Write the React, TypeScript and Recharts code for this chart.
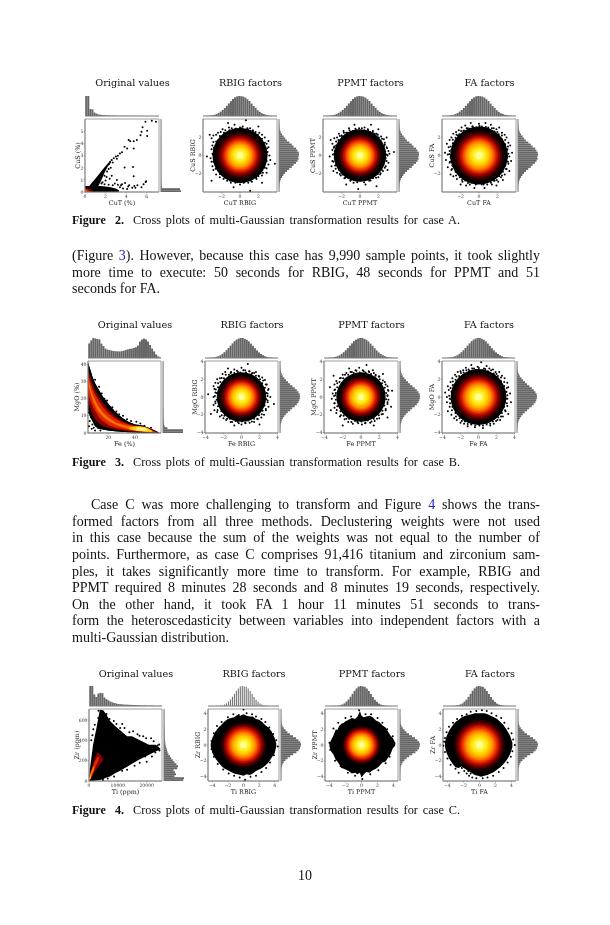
import React from 'react';
import { Area, Bar, BarChart, ComposedChart, ReferenceArea, Scatter, XAxis, YAxis } from 'recharts';

/* ---- colour ramps ---- */
const HEAT = ['#000000', '#200000', '#500000', '#8a0000', '#b81000', '#e02800', '#f54800', '#fc7000', '#fe9400', '#ffb000', '#ffcc00', '#ffe400', '#fff040', '#ffff90'];
const BAND_COLORS = ['#000000', '#000000', '#8a0000', '#e02800', '#fc7000', '#ffd000', '#fff080'];

/* ---- density contours, radius in factor units, outermost first ---- */
const RINGS_A_RBIG = [3.0, 2.6, 2.35, 2.15, 1.95, 1.78, 1.62, 1.48, 1.32, 1.18, 1.02, 0.85, 0.65, 0.38];
const RINGS_A_PPMT = [2.85, 2.42, 2.2, 2.02, 1.85, 1.68, 1.54, 1.4, 1.26, 1.12, 0.97, 0.8, 0.6, 0.35];
const RINGS_A_FA = [3.15, 2.75, 2.5, 2.3, 2.1, 1.92, 1.76, 1.6, 1.44, 1.28, 1.1, 0.92, 0.7, 0.4];
const RINGS_B_RBIG = [2.75, 2.38, 2.18, 2, 1.83, 1.67, 1.53, 1.39, 1.25, 1.11, 0.96, 0.8, 0.6, 0.35];
const RINGS_B_PPMT = [2.7, 2.3, 2.12, 1.95, 1.78, 1.62, 1.48, 1.35, 1.22, 1.08, 0.93, 0.78, 0.58, 0.34];
const RINGS_B_FA = [3.1, 2.72, 2.48, 2.28, 2.08, 1.9, 1.74, 1.58, 1.42, 1.26, 1.08, 0.9, 0.68, 0.4];
const RINGS_C_RBIG = [3.2, 2.95, 2.7, 2.5, 2.3, 2.1, 1.9, 1.72, 1.55, 1.38, 1.18, 0.98, 0.75, 0.42];
const RINGS_C_PPMT = [2.6, 2.4, 2.22, 2.05, 1.9, 1.75, 1.6, 1.46, 1.32, 1.18, 1.02, 0.85, 0.65, 0.36];
const RINGS_C_FA = [3.5, 3.2, 2.95, 2.72, 2.5, 2.3, 2.1, 1.9, 1.72, 1.52, 1.3, 1.08, 0.82, 0.46];

/* ---- samples crowding the edge of the dense disc ---- */
const RIM_FACTORS = [[2.9,0.1],[2.75,0.45],[2.95,0.8],[2.6,1.05],[2.7,1.4],[2.3,1.55],[2.4,1.85],[2.05,2.0],[1.95,2.3],[1.6,2.4],[1.4,2.7],[1.1,2.6],[0.85,2.9],[0.5,2.75],[0.2,3.0],[-0.15,2.75],[-0.5,2.95],[-0.8,2.7],[-1.15,2.8],[-1.4,2.5],[-1.75,2.5],[-1.95,2.1],[-2.2,2.15],[-2.35,1.7],[-2.6,1.55],[-2.6,1.1],[-2.85,0.85],[-2.75,0.45],[-2.95,0.1],[-2.75,-0.3],[-2.9,-0.7],[-2.6,-1.05],[-2.65,-1.45],[-2.25,-1.6],[-2.2,-2.05],[-1.9,-2.1],[-1.6,-2.45],[-1.3,-2.45],[-1.05,-2.8],[-0.65,-2.7],[-0.3,-2.95],[0.05,-2.75],[0.45,-2.95],[0.75,-2.65],[1.15,-2.75],[1.4,-2.45],[1.75,-2.45],[1.95,-2.05],[2.25,-1.95],[2.35,-1.55],[2.7,-1.35],[2.55,-0.95],[2.9,-0.6],[2.75,-0.25]];
const RIM_FA = [[3.2,0.2],[3.05,0.6],[3.15,1.0],[2.85,1.25],[2.85,1.7],[2.5,1.8],[2.5,2.2],[2.15,2.35],[2.0,2.6],[1.7,2.65],[1.4,3.0],[1.05,2.9],[0.75,3.15],[0.4,3.0],[0.05,3.25],[-0.3,3.05],[-0.7,3.2],[-1.0,2.95],[-1.35,3.0],[-1.65,2.75],[-1.95,2.7],[-2.15,2.35],[-2.45,2.3],[-2.55,1.95],[-2.85,1.75],[-2.85,1.35],[-3.1,1.0],[-3.0,0.6],[-3.25,0.15],[-3.05,-0.25],[-3.15,-0.7],[-2.9,-1.1],[-2.95,-1.5],[-2.55,-1.8],[-2.5,-2.2],[-2.1,-2.4],[-1.85,-2.7],[-1.5,-2.75],[-1.2,-3.05],[-0.8,-3.0],[-0.35,-3.2],[0.05,-3.05],[0.5,-3.2],[0.9,-2.95],[1.3,-3],[1.6,-2.75],[1.95,-2.7],[2.2,-2.3],[2.5,-2.2],[2.6,-1.8],[2.95,-1.5],[2.85,-1.1],[3.15,-0.7],[3.05,-0.2]];

/* ---- outlying samples ---- */
const DOTS_A_RBIG = [[-3.3,2.3],[-3.1,1.9],[-2.9,2.2],[-2.6,2.3],[-2.4,2.5],[-2.1,2.6],[-1.9,2.9],[-1.6,2.8],[-1.3,3.6],[-1.2,3.1],[-0.9,3.0],[-0.6,3.4],[-0.4,2.95],[0,3.1],[0.3,3.2],[0.65,3.9],[0.8,3],[1.1,3.0],[1.4,2.8],[1.7,2.6],[2,3.2],[2.1,2.5],[2.4,2.3],[2.7,2],[3.1,1.6],[2.9,1.3],[3.1,0.9],[3,0.4],[3.2,0],[3.3,-0.5],[3.8,-0.9],[3.1,-1],[2.9,-1.4],[2.9,-1.9],[2.5,-1.9],[2.4,-2.2],[2.4,-3],[2,-2.3],[1.8,-2.6],[1.1,-3.9],[1.3,-2.9],[0.9,-3],[0.4,-3],[0,-3.2],[-0.7,-3.5],[-0.5,-3],[-1,-3],[-1.4,-2.8],[-1.8,-2.6],[-2.2,-2.4],[-3.1,-2.8],[-2.6,-2.1],[-2.9,-1.6],[-3,-1.2],[-3.1,-0.7],[-3.6,-0.1],[-3.2,-0.3],[-3,0.2],[-3.1,0.7],[-3,1.1],[-2.9,1.5]];
const DOTS_A_PPMT = [[-3.2,1.7],[-3,1.3],[-2.8,1.9],[-2.5,2.0],[-2.3,2.4],[-2,2.2],[-1.8,2.7],[-1.5,2.5],[-1.2,3.0],[-1,2.6],[-0.6,3.4],[-0.4,2.8],[-0.1,3.0],[0.2,2.7],[0.5,3.1],[0.9,2.8],[1.2,3.4],[1.4,2.6],[1.8,2.4],[2,2.9],[2.3,2.1],[2.6,1.8],[2.9,2],[2.7,1.2],[2.9,0.9],[3.1,0.5],[3.7,0.4],[3.0,0],[3.2,0.2],[2.8,-0.3],[3.1,-0.8],[2.8,-1.2],[3,-1.6],[2.5,-1.7],[2.2,-2.1],[2.0,-2.4],[1.8,-3.4],[1.4,-2.5],[1,-2.8],[0.6,-3.2],[0.2,-2.7],[-0.2,-3.7],[-0.3,-2.8],[-0.7,-3.0],[-1,-2.7],[-1.5,-3.2],[-1.7,-2.5],[-2.1,-2.2],[-2.5,-1.9],[-2.9,-1.7],[-3.1,-1.2],[-2.7,-1.1],[-3,-0.6],[-3.3,-0.1],[-2.8,0.2],[-3,0.6],[-2.8,1]];
const DOTS_A_FA = [[-3.5,1.3],[-3.3,0.9],[-3.2,1.7],[-3.0,2.0],[-2.8,2.4],[-2.5,2.6],[-2.2,2.8],[-2.3,2.2],[-1.9,3.1],[-1.7,2.7],[-1.5,3.3],[-1.2,3.0],[-0.9,3.6],[-0.7,3.2],[-0.3,3.1],[0,3.5],[0.3,3.2],[0.7,3.6],[1,3.1],[1.3,3.4],[1.6,3.0],[1.9,2.9],[2.2,3.1],[2.5,2.5],[2.8,2.3],[3,2.0],[3.2,1.4],[3.4,1.1],[3.1,0.7],[3.6,0.3],[3.3,-0.1],[3.5,-0.6],[3.2,-0.9],[3.0,-1.5],[3.3,-1.7],[2.8,-2.1],[2.4,-2.4],[2.6,-2.7],[2.1,-2.9],[1.7,-2.8],[1.9,-3.3],[1.4,-3.2],[0.9,-3.2],[0.6,-3.6],[0.3,-3.2],[-0.2,-3.1],[-0.5,-3.6],[-1,-3.2],[-1.4,-3.3],[-1.8,-2.9],[-2,-3.2],[-2.4,-2.6],[-2.8,-2.3],[-3.1,-2.1],[-3,-1.6],[-3.4,-1.3],[-3.2,-0.8],[-3.6,-0.5],[-3.1,-0.2],[-3.4,0.1],[-3.7,0.3],[-3.2,0.5]];
const DOTS_B_RBIG = [[-3.7,0.3],[-3.1,1.2],[-2.9,1.6],[-2.7,2],[-2.4,2.1],[-2.1,2.6],[-1.8,2.8],[-1.5,3.2],[-1.2,2.7],[-0.8,3.1],[-0.4,2.8],[0,3.3],[0.4,3.0],[0.7,3.7],[0.9,2.9],[1.2,2.7],[1.6,2.8],[1.9,2.4],[2.3,2.2],[2.6,1.9],[2.8,1.4],[3,0.9],[2.9,0.4],[3.2,0],[2.9,-0.4],[3.6,-0.8],[3,-1.1],[2.7,-1.5],[2.5,-2],[2.2,-2.3],[1.8,-2.5],[2,-3.1],[1.4,-2.8],[0.9,-2.9],[0.4,-2.9],[0,-3.1],[-0.4,-2.8],[-0.8,-3.2],[-1.2,-2.8],[-1.7,-2.6],[-2,-2.4],[-2.4,-2.2],[-2.7,-1.7],[-3,-1.5],[-3.4,-1.9],[-3.1,-0.9],[-2.9,-0.5],[-3.1,0],[-2.9,0.5],[-3,0.9]];
const DOTS_B_PPMT = [[-3.4,1.1],[-3.1,0.4],[-2.9,1.4],[-2.7,1.8],[-3,2.4],[-2.3,2.1],[-2,2.5],[-1.6,2.7],[-1.3,3.2],[-1,2.8],[-0.6,3.0],[-0.2,3.3],[0.3,2.9],[0.6,3.6],[0.9,2.8],[1.3,3.0],[1.6,2.5],[2,2.3],[2.4,2.6],[2.6,1.7],[2.9,1.2],[3.0,0.7],[3.4,0.7],[2.9,0.2],[3,-0.3],[2.9,-0.8],[3.3,-1.1],[2.7,-1.5],[2.4,-1.9],[2.9,-2.3],[2,-2.4],[1.5,-2.7],[1,-2.9],[1.4,-3.2],[0.5,-2.9],[0.1,-3.1],[-0.4,-2.8],[-0.9,-3],[-1.4,-2.8],[-1.8,-2.5],[-2,-3.2],[-2.3,-2.2],[-2.7,-1.8],[-2.9,-1.2],[-3.3,-1.5],[-2.9,-0.7],[-3.2,-0.2],[-2.8,0.2],[-2.9,0.8]];
const DOTS_B_FA = [[-3.7,0.5],[-3.4,1.2],[-3.1,1.7],[-3.3,0.8],[-2.9,2.1],[-2.6,2.5],[-2.3,2.8],[-2.0,2.9],[-1.7,3.0],[-1.4,3.3],[-1.1,3.1],[-0.8,3.6],[-0.5,3.2],[-0.1,3.4],[0.3,3.9],[0.6,3.2],[0.9,3.5],[1.2,3.2],[1.6,3.1],[1.9,2.8],[2.3,2.8],[2.6,2.4],[2.9,2.1],[3.2,1.6],[3.3,1.1],[3.1,0.6],[3.5,0.4],[3.2,-0.2],[3.6,-0.6],[3.2,-1],[3,-1.6],[3.3,-1.9],[2.7,-2.2],[2.4,-2.6],[2.1,-2.6],[1.7,-3],[1.3,-3.2],[0.9,-3.1],[0.5,-3.5],[0.1,-3.2],[-0.4,-3.4],[-0.8,-3.1],[-1.2,-3.3],[-1.6,-3],[-2,-2.9],[-2.4,-2.6],[-2.7,-2.4],[-3,-2.0],[-3.4,-1.6],[-3.2,-1.1],[-3.5,-0.6],[-3.2,-0.2],[-3.5,0]];
const DOTS_C_RBIG = [[-4.1,0.5],[-3.8,1.5],[-3.4,2.4],[-2.8,2.9],[-2,3.5],[-1.3,3.9],[-0.6,3.8],[0,4.5],[0.4,4.0],[1.1,3.9],[1.6,3.6],[2.3,3.3],[2.8,2.9],[3.3,2.2],[3.8,1.4],[4.2,0.6],[4.4,-0.2],[3.9,-1.3],[3.4,-2.2],[2.9,-2.9],[2.3,-3.4],[1.6,-3.9],[0.9,-4.0],[0.2,-4.4],[-0.5,-4.1],[-1.2,-3.9],[-1.9,-3.6],[-2.6,-3.1],[-3.3,-2.4],[-3.8,-1.5],[-4.1,-0.5]];
const DOTS_C_PPMT = [[-4,0.3],[-3.5,2.1],[-2.9,2.8],[-2,3.4],[-1.3,3.6],[-0.3,4.4],[0.5,3.9],[1.2,3.9],[2,3.4],[2.6,2.8],[3.2,2],[3.9,1.1],[4.1,0.2],[3.5,-1.5],[3,-2.3],[2.1,-3.2],[1.1,-3.7],[0.1,-4.3],[-0.8,-3.9],[-1.7,-3.5],[-2.6,-2.7],[-3.3,-2],[-3.9,-0.6]];
const DOTS_C_FA = [[-4.3,0.9],[-4.1,1.6],[-3.8,2.3],[-3.3,2.8],[-2.8,3.3],[-2.2,3.7],[-1.6,3.9],[-1.1,4.2],[-0.4,4.3],[0.3,4.4],[0.9,4.3],[1.5,4.0],[2.1,3.7],[2.7,3.4],[3.1,2.8],[3.6,2.1],[4,1.5],[4.2,0.7],[4.4,0],[4.1,-0.8],[3.9,-1.5],[3.5,-2.2],[3,-2.9],[2.4,-3.4],[1.7,-3.9],[1,-4.1],[0.4,-4.2],[-0.4,-4.2],[-0.9,-4.1],[-1.3,-3.9],[-1.6,-3.6],[-1.9,-3.3],[-2.2,-2.9],[-1.4,-3.3],[-1.1,-3.6],[-2.6,-3.5],[-3,-3],[-3.6,-2.5],[-4,-1.7],[-3.2,-1.6],[-3.6,-1.2],[-2.9,-1.3],[-4.3,-0.9],[-4.5,-0.1],[-4.4,0.4]];
const DOTS_A_ORIG = [[5.88,5.83],[6.5,5.9],[6.9,5.83],[6.05,5.08],[6.05,4.64],[5.6,5.36],[5.5,5],[5.4,4.7],[5.05,4.3],[4.74,4.2],[4.4,4.2],[4.25,4.3],[3.85,3.75],[4.1,3.6],[4.74,3.6],[3.6,3.3],[3.4,3.2],[3.2,3.0],[3.0,2.95],[2.8,2.8],[2.6,2.65],[2.45,2.5],[2.3,2.3],[3.1,2.75],[2.7,2.45],[2.3,1.9],[2.15,1.7],[2.5,2.0],[1.9,1.35],[2.1,1.25],[2.4,1.1],[2.0,0.95],[1.7,0.8],[2.6,1.35],[3.1,1.0],[3.85,2.03],[4.67,2.08],[4.74,1.3],[3.6,0.65],[3.9,0.75],[4.2,0.45],[4.6,0.35],[4.9,0.35],[3.4,0.4],[3.7,0.3],[4.1,0.25],[4.3,0.55],[3.2,0.6],[2.9,0.7],[5.9,0.83],[5.7,0.65],[5.5,0.4],[5.95,0.9],[5.1,0.55],[4.8,0.5],[3.5,0.55],[2.7,0.55],[2.3,0.6],[1.9,0.65],[1.6,0.7]];
const DOTS_B_ORIG = [[5.5,12],[7,9],[6,7],[8,5],[9,3],[7.5,2.5],[10,1.5],[12,3],[14,1.5],[5.5,4],[9,7],[6.5,11],[11,5],[15,23],[19,19],[23,15],[26,12.5],[28,11],[31,10],[34,8],[37,7],[41,6.5],[44,5.5],[47,4.2],[52,3],[13,27],[10,31],[17,20]];
const DOTS_C_ORIG = [[6050,660],[3300,690],[2000,554],[3200,620],[7100,610],[8600,590],[10800,520],[12300,520],[14000,480],[15300,490],[16800,460],[18800,440],[19800,420],[22400,390],[23800,350],[24300,360],[21500,420],[17500,445],[11500,560],[9500,560],[800,400],[1500,510],[1200,450],[19500,240],[17600,180],[15800,150],[13200,110],[11500,100],[21800,240],[20000,190],[23000,280],[8700,45],[6500,25],[4800,12],[24400,300]];

/* ---- black and heat regions (x, lower edge, upper edge), outermost first ---- */
const BANDS_A_ORIG = [
  { x: [0, 0.5, 1, 1.5, 2, 2.5, 3, 3.3], lo: [0, 0, 0, 0, 0, 0, 0, 0], hi: [0.5, 0.5, 0.5, 0.5, 0.45, 0.4, 0.3, 0.15] },
  { x: [0, 0.3, 0.6, 1, 1.3, 1.6, 1.9, 2.2, 2.5], lo: [0, 0, 0, 0.2, 0.5, 1.0, 1.6, 2.1, 2.4], hi: [0.05, 0.35, 0.7, 1.1, 1.4, 1.75, 2.05, 2.35, 2.6] },
  { x: [0, 0.3, 0.5, 0.7], lo: [0, 0, 0, 0], hi: [0.3, 0.32, 0.25, 0.1] },
  { x: [0, 0.15, 0.3, 0.42], lo: [0, 0, 0, 0], hi: [0.22, 0.25, 0.18, 0.05] },
  { x: [0, 0.1, 0.2], lo: [0, 0, 0], hi: [0.12, 0.14, 0.04] },
];
const BANDS_B_ORIG = [
  { x: [4.7, 6, 8, 10, 13, 16, 20, 25, 30, 35, 40, 45, 50, 55, 58], lo: [14, 10, 7, 4, 2.5, 2, 1.5, 1, 0.8, 0.5, 0.3, 0.2, 0.1, 0, 0], hi: [41, 38, 33, 29, 25, 21, 17, 12.5, 9, 6.5, 5, 4.5, 3, 1.5, 0.3] },
  { x: [4.7, 6, 8, 10, 13, 16, 20, 25, 30, 35, 40, 45, 50, 55, 57], lo: [14, 10, 7, 4, 2.5, 2, 1.5, 1, 0.8, 0.5, 0.3, 0.2, 0.1, 0, 0], hi: [41, 38, 33, 29, 25, 21, 17, 12.5, 9, 6.5, 5, 4.5, 3, 1.5, 0.3] },
  { x: [4.7, 6, 8, 10, 13, 16, 20, 25, 30, 35, 40, 45, 50, 55, 57], lo: [19, 15, 11, 8, 5.5, 4, 3, 2, 1.5, 1, 0.8, 0.5, 0.3, 0.2, 0.1], hi: [38, 34, 29, 25, 21, 17.5, 13.5, 10, 7.3, 5.4, 4.4, 3.9, 2.6, 1.2, 0.4] },
  { x: [4.7, 6, 8, 10, 13, 16, 20, 25, 30, 35, 40, 45, 50, 55], lo: [24, 20, 16, 13, 9, 7, 4.7, 3.2, 2.4, 1.6, 1.2, 0.9, 0.5, 0.3], hi: [35, 31, 26, 22.5, 18.5, 15, 11.5, 8.5, 6.2, 4.9, 4, 3.5, 2.3, 0.9] },
  { x: [5, 7, 9, 12, 16, 20, 26, 32, 38, 42, 46, 50, 53], lo: [28, 22, 17.5, 13, 9.5, 7, 4.6, 3, 1.8, 1.2, 0.9, 0.7, 0.4], hi: [32, 25, 21, 16, 12, 9, 6, 4.5, 3.9, 3.9, 3.5, 2.5, 1.2] },
  { x: [36, 39, 42, 45, 48, 51, 53], lo: [2.3, 1.6, 1.2, 1, 0.8, 0.7, 0.7], hi: [3, 3.6, 3.9, 3.8, 3.3, 2.2, 1.1] },
  { x: [41, 44, 47, 49], lo: [1.6, 1.4, 1.2, 1.3], hi: [3.2, 3.4, 3, 2.3] },
];
const BANDS_C_ORIG = [
  { x: [0, 235, 1410, 2590, 3760, 4940, 6100, 7300, 9050, 10800, 13200, 14900, 17300, 20800, 23100, 24700], lo: [0, 0, 0, 5, 10, 20, 35, 45, 76, 100, 140, 170, 208, 257, 290, 310], hi: [0, 100, 356, 520, 700, 695, 650, 590, 540, 500, 440, 440, 405, 356, 356, 320] },
  { x: [0, 300], lo: [0, 0], hi: [30, 60] },
  { x: [300, 1000, 2000, 3000, 4000, 5000], lo: [10, 40, 90, 130, 170, 210], hi: [60, 120, 230, 280, 260, 210] },
  { x: [300, 1000, 2000, 3000, 3500], lo: [20, 70, 130, 180, 230], hi: [60, 120, 190, 240, 230] },
  { x: [100, 500, 1000, 1500, 2000], lo: [0, 20, 60, 90, 140], hi: [30, 70, 110, 140, 140] },
  { x: [0, 300, 600], lo: [0, 10, 30], hi: [30, 50, 70] },
];
const EDGE_C_RBIG = { x: [-4.2, -4, -3.6, -3.2, -2.8, -2.4, -2, -1.6, -1.2, -0.8, -0.4, 0, 0.4, 0.8, 1.2, 1.6, 2, 2.4, 2.8, 3.2, 3.6, 4, 4.2], lo: [-0.2, -1, -1.7, -2.2, -2.7, -3, -3.2, -3.4, -3.6, -3.7, -3.8, -3.9, -3.7, -3.8, -3.6, -3.3, -3.1, -2.9, -2.6, -2.2, -1.6, -1, -0.2], hi: [0.2, 0.9, 1.7, 2.2, 2.6, 3, 3.3, 3.4, 3.5, 3.8, 3.7, 3.9, 3.7, 3.6, 3.6, 3.3, 3.2, 2.9, 2.5, 2.2, 1.7, 0.9, 0.2] };
const EDGE_C_PPMT = { x: [-4, -3.8, -3.5, -3.2, -3, -2.8, -2.5, -2.2, -2, -1.6, -1.2, -0.8, -0.5, -0.2, 0, 0.3, 0.6, 1, 1.4, 1.8, 2.2, 2.6, 3, 3.3, 3.6, 3.9, 4.2], lo: [-0.2, -0.8, -1.2, -1.9, -2.1, -2.4, -2.9, -3, -3.1, -3.3, -3.6, -3.5, -3.7, -3.5, -4.1, -3.7, -3.4, -3.5, -3.2, -3, -2.7, -2.2, -2.1, -1.6, -1.2, -0.4, -0.1], hi: [0.2, 0.6, 1.2, 2.0, 1.9, 2.4, 2.7, 2.8, 3.0, 3.2, 3.4, 3.3, 3.6, 4.3, 3.7, 3.5, 3.6, 3.7, 3.5, 3.1, 2.9, 2.5, 2.2, 1.7, 1.2, 0.9, 0.3] };
const EDGE_C_FA = { x: [-4.3, -4.1, -3.8, -3.4, -3, -2.6, -2.2, -1.8, -1.4, -1, -0.6, -0.2, 0.2, 0.6, 1, 1.4, 1.8, 2.2, 2.6, 3, 3.4, 3.8, 4.1], lo: [-0.3, -1, -1.7, -2.3, -2.8, -2.9, -2.7, -2.9, -3.3, -3.5, -3.8, -3.9, -4, -3.9, -3.8, -3.6, -3.4, -3.1, -2.8, -2.4, -1.9, -1.2, -0.3], hi: [0.4, 1.1, 1.8, 2.4, 2.9, 3.2, 3.5, 3.7, 3.8, 3.9, 4, 4, 4, 4, 3.9, 3.7, 3.5, 3.3, 2.9, 2.5, 1.9, 1.2, 0.3] };

/* ---- histogram bars, share of the tallest bin ---- */
const TOP_A = [0, 0.5, 1, 2, 4, 6, 10, 15, 22, 30, 40, 51, 63, 74, 85, 93, 98, 100, 99, 97, 92, 84, 75, 62, 50, 41, 29, 21, 14, 10, 6, 4, 2, 1, 0.5, 0];
const RIGHT_A = [0, 0.5, 1, 2, 3, 6, 9, 15, 23, 31, 39, 52, 64, 73, 86, 92, 99, 100, 97, 98, 93, 85, 73, 64, 51, 40, 30, 22, 15, 9, 6, 3, 2, 1, 0.5, 0];
const TOP_B = [0, 0.5, 1, 2, 3, 6, 9, 14, 21, 29, 39, 50, 62, 73, 84, 92, 97, 100, 100, 96, 91, 83, 72, 61, 49, 38, 28, 20, 14, 9, 5, 3, 2, 1, 0.5, 0];
const RIGHT_B = [0.5, 0.5, 1, 2, 3, 5, 9, 14, 22, 30, 40, 50, 62, 74, 84, 92, 98, 100, 99, 96, 92, 84, 74, 61, 51, 39, 29, 21, 14, 9, 6, 3, 2, 1, 0.5, 0.5];
const TOP_C = [0, 0, 0, 0.5, 1, 1, 2, 4, 8, 13, 22, 32, 46, 61, 76, 88, 97, 100, 98, 96, 87, 75, 60, 45, 31, 21, 12, 7, 4, 2, 1, 0.5, 0.5, 0, 0, 0];
const RIGHT_C = [0, 0, 0, 0.5, 1, 1, 2, 4, 8, 14, 23, 32, 45, 60, 75, 87, 96, 100, 98, 95, 88, 77, 61, 46, 33, 22, 13, 8, 4, 2, 1, 1, 0.5, 0, 0, 0];
const TOP_A_ORIG = [100, 100, 35, 33, 17, 12, 8, 6, 5, 4, 3, 3, 2, 2, 2, 1, 1, 1, 1, 1, 1, 1, 0.5, 0.5, 0.5, 0.5, 0.5, 0.5, 0, 0, 0, 0, 0, 0, 0, 0];
const RIGHT_A_ORIG = [0.5, 0.5, 0.5, 0.5, 0.5, 0.5, 0.5, 0.5, 0.5, 1, 1, 1, 1, 1, 1, 1, 1, 1, 1, 1, 1, 1, 1, 1, 1, 1, 1, 1, 1, 1, 2, 2, 3, 5, 95, 100];
const TOP_B_ORIG = [73, 88, 100, 98, 95, 93, 72, 60, 47, 42, 40, 37, 35, 34, 33, 33, 34, 36, 40, 43, 46, 47, 50, 54, 62, 82, 92, 97, 93, 82, 65, 47, 33, 18, 8, 2];
const RIGHT_B_ORIG = [1, 1, 1, 1, 1, 1, 1, 1, 1, 1, 1, 1, 1, 1, 1, 1, 1, 1, 1, 1, 1, 1, 1, 1, 2, 2, 2, 2, 3, 3, 4, 5, 8, 22, 100, 100];
const TOP_C_ORIG = [100, 100, 58, 45, 62, 66, 64, 42, 34, 28, 22, 18, 15, 12, 10, 9, 8, 7, 7, 6, 6, 5, 5, 4, 4, 3, 3, 3, 2, 2, 2, 2, 1, 1, 1, 1];
const RIGHT_C_ORIG = [1, 1, 1, 1, 1, 1, 1, 1, 2, 2, 2, 3, 3, 3, 4, 5, 6, 7, 9, 12, 15, 18, 22, 30, 36, 44, 52, 62, 70, 66, 48, 55, 60, 52, 100, 96];

const TITLES = ['Original values', 'RBIG factors', 'PPMT factors', 'FA factors'];
const FIG_TEXT = 'Cross plots of multi-Gaussian transformation results for case ';

const TICKS_WIDE = [-4, -2, 0, 2, 4];
const TICKS_NARROW = [-2, 0, 2];

const GREY = '#777';
const SERIF = '"DejaVu Serif", serif';
const BODY = '"Liberation Serif", serif';

function toRows(band: any) {
  return band.x.map((x: number, i: number) => ({ x, v: [band.lo[i], band.hi[i]] }));
}
function toDots(list: number[][]) {
  return list.map(([x, y]) => ({ x, y }));
}

const Dot = (p: any) => <circle cx={p.cx} cy={p.cy} r={1} fill="#000" />;

function Hist({ values, left, top, width, height, vertical }: any) {
  const data = values.map((v: number, i: number) => ({ bin: i, v }));
  const style: React.CSSProperties = { position: 'absolute', left, top };
  if (vertical) {
    return (
      <div style={style}>
        <BarChart width={width} height={height} data={data} layout="vertical" barCategoryGap="12%" margin={{ top: 0, right: 0, bottom: 0, left: 0 }}>
          <XAxis type="number" hide domain={[0, 100]} />
          <YAxis type="category" dataKey="bin" width={1} tick={false} tickLine={false} axisLine={{ stroke: GREY, strokeWidth: 1 }} />
          <Bar dataKey="v" fill="#666" isAnimationActive={false} />
        </BarChart>
      </div>
    );
  }
  return (
    <div style={style}>
      <BarChart width={width} height={height} data={data} barCategoryGap="12%" margin={{ top: 0, right: 0, bottom: 0, left: 0 }}>
        <XAxis dataKey="bin" height={1} tick={false} tickLine={false} axisLine={{ stroke: GREY, strokeWidth: 1 }} />
        <YAxis hide domain={[0, 100]} />
        <Bar dataKey="v" fill="#666" isAnimationActive={false} />
      </BarChart>
    </div>
  );
}

function Panel({ box, title, titleTop, xLabel, yLabel, yLabelOffset = 10, xDomain, yDomain, xTicks, yTicks, rings, dots, bands, colors, edge, top, right }: any) {
  const [l, t, w, h] = box;
  const pad = 2;
  const yw = 20;
  const xh = 22;
  const perUnit = w / (xDomain[1] - xDomain[0]);
  const discs = (rings || []).map((r: number, i: number) => ({ x: 0, y: 0, r, i }));
  const Disc = (p: any) => <circle cx={p.cx} cy={p.cy} r={p.payload.r * perUnit} fill={HEAT[p.payload.i]} />;
  const tickStyle = { fontSize: 4.6, fontFamily: SERIF, fill: '#333' };
  const fmt = (v: number) => String(v).replace('-', '\u2212');
  return (
    <>
      <div style={{ position: 'absolute', left: l, width: w + 21, top: titleTop - 6, lineHeight: '12px', textAlign: 'center', fontFamily: SERIF, fontSize: 9.7, color: '#111', whiteSpace: 'nowrap' }}>{title}</div>
      <Hist values={top} left={l} top={t - 23} width={w} height={21} />
      <Hist values={right} left={l + w + 1} top={t} width={21} height={h} vertical />
      <div style={{ position: 'absolute', left: l - yw, top: t - pad }}>
        <ComposedChart width={yw + w + pad} height={pad + h + xh} margin={{ top: pad, right: pad, bottom: 0, left: 0 }}>
          <XAxis
            type="number" dataKey="x" domain={xDomain} ticks={xTicks} interval={0} allowDataOverflow height={xh}
            tick={tickStyle} tickSize={1.5} tickMargin={1} tickFormatter={fmt}
            axisLine={{ stroke: GREY, strokeWidth: 0.7 }} tickLine={{ stroke: GREY, strokeWidth: 0.5 }}
            label={{ value: xLabel, position: 'insideBottom', offset: 9, style: { fontSize: 6.4, fontFamily: SERIF, fill: '#222' } }}
          />
          <YAxis
            type="number" domain={yDomain} ticks={yTicks} interval={0} allowDataOverflow width={yw}
            tick={tickStyle} tickSize={1.5} tickMargin={0} tickFormatter={fmt}
            axisLine={{ stroke: GREY, strokeWidth: 0.7 }} tickLine={{ stroke: GREY, strokeWidth: 0.5 }}
            label={{ value: yLabel, angle: -90, position: 'insideLeft', offset: yLabelOffset, style: { fontSize: 6.4, fontFamily: SERIF, fill: '#222', textAnchor: 'middle' } }}
          />
          {edge && <Area data={toRows(edge)} dataKey="v" type="linear" fill="#000" fillOpacity={1} stroke="none" dot={false} activeDot={false} isAnimationActive={false} />}
          {(bands || []).map((b: any, i: number) => (
            <Area key={i} data={toRows(b)} dataKey="v" type="linear" fill={colors[i]} fillOpacity={1} stroke="none" dot={false} activeDot={false} isAnimationActive={false} />
          ))}
          <Scatter data={toDots(dots)} dataKey="y" shape={Dot} isAnimationActive={false} />
          {rings && <Scatter data={discs} dataKey="y" shape={Disc} isAnimationActive={false} />}
          <ReferenceArea x1={xDomain[0]} x2={xDomain[1]} y1={yDomain[0]} y2={yDomain[1]} fill="none" stroke={GREY} strokeWidth={0.7} />
        </ComposedChart>
      </div>
    </>
  );
}

function Line({ top, left = 72, width = 468, size = 14, children, justify = true }: any) {
  return (
    <div style={{ position: 'absolute', left, top: top - 9, width, height: 18, lineHeight: '18px', fontFamily: BODY, fontSize: size, color: '#111', textAlign: justify ? 'justify' : 'left', textAlignLast: justify ? 'justify' : 'left' }}>
      {children}
    </div>
  );
}

function Caption({ top, num, letter }: any) {
  return (
    <>
      <Line top={top} width={52} size={12}><b>Figure {num}.</b></Line>
      <Line top={top} left={133} width={327} size={12.3}>{FIG_TEXT + letter + '.'}</Line>
    </>
  );
}

const BLUE = { color: '#2222c0' };

export default function App() {
  const gauss = (yDomainW: number[], ticks: number[]) => ({ xDomain: yDomainW, yDomain: yDomainW, xTicks: ticks, yTicks: ticks });
  const dA = { ...gauss([-4.03, 4.03], TICKS_NARROW), titleTop: 83 };
  const dB = { ...gauss([-4.05, 4.05], TICKS_WIDE), titleTop: 325 };
  const dC = { ...gauss([-4.55, 4.55], TICKS_WIDE), titleTop: 674 };
  return (
    <div style={{ position: 'absolute', left: 0, top: 0, width: 610, height: 925, background: '#fff', overflow: 'hidden', filter: 'blur(0.35px)' }}>
      {/* Figure 2 */}
      <Panel box={[85, 119, 74, 73]} titleTop={83} title={TITLES[0]} xLabel="CuT (%)" yLabel="CuS (%)" yLabelOffset={13} xDomain={[0, 7.2]} yDomain={[0, 6.05]} xTicks={[0, 2, 4, 6]} yTicks={[0, 1, 2, 3, 4, 5]} dots={DOTS_A_ORIG} bands={BANDS_A_ORIG} colors={['#000', '#000', '#8a0000', '#e02800', '#fc9400']} top={TOP_A_ORIG} right={RIGHT_A_ORIG} />
      <Panel box={[203, 119, 74, 73]} title={TITLES[1]} xLabel="CuT RBIG" yLabel="CuS RBIG" {...dA} rings={RINGS_A_RBIG} dots={[...DOTS_A_RBIG, ...RIM_FACTORS]} top={TOP_A} right={RIGHT_A} />
      <Panel box={[323, 119, 74, 73]} title={TITLES[2]} xLabel="CuT PPMT" yLabel="CuS PPMT" {...dA} rings={RINGS_A_PPMT} dots={[...DOTS_A_PPMT, ...RIM_FACTORS]} top={TOP_A} right={RIGHT_A} />
      <Panel box={[442, 119, 74, 73]} title={TITLES[3]} xLabel="CuT FA" yLabel="CuS FA" {...dA} rings={RINGS_A_FA} dots={[...DOTS_A_FA, ...RIM_FA]} top={TOP_A} right={RIGHT_A} />
      <Caption top={220} num={2} letter="A" />

      <Line top={256}>(Figure <span style={BLUE}>3</span>). However, because this case has 9,990 sample points, it took slightly</Line>
      <Line top={272.5}>more time to execute: 50 seconds for RBIG, 48 seconds for PPMT and 51</Line>
      <Line top={289} justify={false}>seconds for FA.</Line>

      {/* Figure 3 */}
      <Panel box={[88, 361, 73, 72]} titleTop={325} title={TITLES[0]} xLabel="Fe (%)" yLabel="MgO (%)" yLabelOffset={9} xDomain={[4.7, 59.5]} yDomain={[0, 42]} xTicks={[20, 40]} yTicks={[0, 10, 20, 30, 40]} dots={DOTS_B_ORIG} bands={BANDS_B_ORIG} colors={BAND_COLORS} top={TOP_B_ORIG} right={RIGHT_B_ORIG} />
      <Panel box={[205, 361, 73, 72]} title={TITLES[1]} xLabel="Fe RBIG" yLabel="MgO RBIG" {...dB} rings={RINGS_B_RBIG} dots={[...DOTS_B_RBIG, ...RIM_FACTORS]} top={TOP_B} right={RIGHT_B} />
      <Panel box={[324, 361, 74, 72]} title={TITLES[2]} xLabel="Fe PPMT" yLabel="MgO PPMT" {...dB} rings={RINGS_B_PPMT} dots={[...DOTS_B_PPMT, ...RIM_FACTORS]} top={TOP_B} right={RIGHT_B} />
      <Panel box={[442, 361, 73, 72]} title={TITLES[3]} xLabel="Fe FA" yLabel="MgO FA" {...dB} rings={RINGS_B_FA} dots={[...DOTS_B_FA, ...RIM_FA]} top={TOP_B} right={RIGHT_B} />
      <Caption top={462} num={3} letter="B" />

      <Line top={505} left={91} width={449}>Case C was more challenging to transform and Figure <span style={BLUE}>4</span> shows the trans-</Line>
      <Line top={521.6}>formed factors from all three methods. Declustering weights were not used</Line>
      <Line top={538}>in this case because the sum of the weights was not equal to the number of</Line>
      <Line top={555}>points. Furthermore, as case C comprises 91,416 titanium and zirconium sam-</Line>
      <Line top={571.5}>ples, it takes significantly more time to transform. For example, RBIG and</Line>
      <Line top={588}>PPMT required 8 minutes 28 seconds and 8 minutes 19 seconds, respectively.</Line>
      <Line top={604.6}>On the other hand, it took FA 1 hour 11 minutes 51 seconds to trans-</Line>
      <Line top={621}>form the heteroscedasticity between variables into independent factors with a</Line>
      <Line top={638} justify={false}>multi-Gaussian distribution.</Line>

      {/* Figure 4 */}
      <Panel box={[89, 709, 73, 72]} titleTop={674} title={TITLES[0]} xLabel="Ti (ppm)" yLabel="Zr (ppm)" yLabelOffset={8} xDomain={[0, 25300]} yDomain={[0, 708]} xTicks={[0, 10000, 20000]} yTicks={[0, 200, 400, 600]} dots={DOTS_C_ORIG} bands={BANDS_C_ORIG} colors={['#000', '#000', '#8a0000', '#e02800', '#fc7000', '#ffd000']} top={TOP_C_ORIG} right={RIGHT_C_ORIG} />
      <Panel box={[208, 709, 71, 72]} title={TITLES[1]} xLabel="Ti RBIG" yLabel="Zr RBIG" {...dC} rings={RINGS_C_RBIG} dots={DOTS_C_RBIG} edge={EDGE_C_RBIG} top={TOP_C} right={RIGHT_C} />
      <Panel box={[325, 709, 73, 72]} title={TITLES[2]} xLabel="Ti PPMT" yLabel="Zr PPMT" {...dC} rings={RINGS_C_PPMT} dots={DOTS_C_PPMT} edge={EDGE_C_PPMT} top={TOP_C} right={RIGHT_C} />
      <Panel box={[443, 709, 73, 72]} title={TITLES[3]} xLabel="Ti FA" yLabel="Zr FA" {...dC} rings={RINGS_C_FA} dots={DOTS_C_FA} edge={EDGE_C_FA} top={TOP_C} right={RIGHT_C} />
      <Caption top={810} num={4} letter="C" />

      <Line top={876} left={298} width={20} justify={false}>10</Line>
    </div>
  );
}
